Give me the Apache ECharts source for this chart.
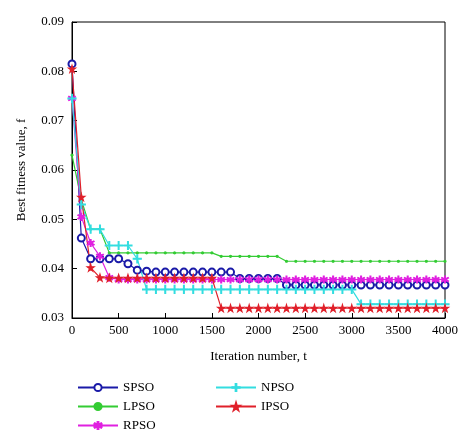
<!DOCTYPE html>
<html>
<head>
<meta charset="utf-8">
<script src="https://cdn.jsdelivr.net/npm/echarts@6/dist/echarts.min.js"></script>
</head>
<body style="margin:0;background:#fff">
<div id="main" style="width:474px;height:448px;"></div>
<script>
var iters = [];
for (var i = 0; i <= 40; i++) iters.push(i * 100);

var spso = [0.0815,0.0462,0.042,0.042,0.042,0.042,0.041,0.0397,0.0395,0.0393,0.0393,0.0393,0.0393,0.0393,0.0393,0.0393,0.0393,0.0393,0.038,0.038,0.038,0.038,0.038,0.0367,0.0367,0.0367,0.0367,0.0367,0.0367,0.0367,0.0367,0.0367,0.0367,0.0367,0.0367,0.0367,0.0367,0.0367,0.0367,0.0367,0.0367];
var lpso = [0.063,0.054,0.048,0.048,0.0432,0.0432,0.0432,0.0432,0.0432,0.0432,0.0432,0.0432,0.0432,0.0432,0.0432,0.0432,0.0425,0.0425,0.0425,0.0425,0.0425,0.0425,0.0425,0.0415,0.0415,0.0415,0.0415,0.0415,0.0415,0.0415,0.0415,0.0415,0.0415,0.0415,0.0415,0.0415,0.0415,0.0415,0.0415,0.0415,0.0415];
var rpso = [0.0745,0.0505,0.0452,0.0425,0.0382,0.0378,0.0378,0.0378,0.0378,0.0378,0.0378,0.0378,0.0378,0.0378,0.0378,0.0378,0.0378,0.0378,0.0378,0.0378,0.0378,0.0378,0.0378,0.0378,0.0378,0.0378,0.0378,0.0378,0.0378,0.0378,0.0378,0.0378,0.0378,0.0378,0.0378,0.0378,0.0378,0.0378,0.0378,0.0378,0.0378];
var npso = [0.0745,0.053,0.048,0.048,0.0447,0.0447,0.0447,0.042,0.0358,0.0358,0.0358,0.0358,0.0358,0.0358,0.0358,0.0358,0.0358,0.0358,0.0358,0.0358,0.0358,0.0358,0.0358,0.0358,0.0358,0.0358,0.0358,0.0358,0.0358,0.0358,0.0358,0.0328,0.0328,0.0328,0.0328,0.0328,0.0328,0.0328,0.0328,0.0328,0.0328];
var ipso = [0.0805,0.0545,0.0402,0.0382,0.0381,0.0381,0.0381,0.0381,0.0381,0.0381,0.0381,0.0381,0.0381,0.0381,0.0381,0.0381,0.032,0.032,0.032,0.032,0.032,0.032,0.032,0.032,0.032,0.032,0.032,0.032,0.032,0.032,0.032,0.032,0.032,0.032,0.032,0.032,0.032,0.032,0.032,0.032,0.032];

var star = 'path://M50,0 L61,35 L98,35 L68,57 L79,91 L50,70 L21,91 L32,57 L2,35 L39,35 Z';
var plus = 'path://M45,0 L55,0 L55,45 L100,45 L100,55 L55,55 L55,100 L45,100 L45,55 L0,55 L0,45 L45,45 Z';
var aster = 'path://M45,0 L55,0 L55,38 L87,20 L92,29 L60,50 L92,71 L87,80 L55,62 L55,100 L45,100 L45,62 L13,80 L8,71 L40,50 L8,29 L13,20 L45,38 Z';

function pairs(v) { return iters.map(function (t, i) { return [t, v[i]]; }); }
function mk(name, v, color, symbol, size) {
  return { name: name, type: 'line', data: pairs(v), symbol: symbol, symbolSize: size,
    lineStyle: { color: color, width: 1.2 }, itemStyle: { color: color, borderColor: color, borderWidth: 1.2 } };
}

var font = 'Liberation Serif';
var chart = echarts.init(document.getElementById('main'));
chart.setOption({
  animation: false,
  textStyle: { fontFamily: font },
  grid: { left: 72, right: 29, top: 22, bottom: 130, show: true, borderColor: '#000', borderWidth: 1 },
  xAxis: { type: 'value', min: 0, max: 4000, interval: 500,
    name: 'Iteration number, t', nameLocation: 'middle', nameGap: 32,
    nameTextStyle: { fontSize: 13, color: '#000', fontFamily: font },
    axisLine: { lineStyle: { color: '#000' } }, axisTick: { inside: true, length: 5, lineStyle: { color: '#000' } },
    axisLabel: { color: '#000', fontSize: 13, margin: 6, formatter: function (v) { return String(v); } }, splitLine: { show: false } },
  yAxis: { type: 'value', min: 0.03, max: 0.09, interval: 0.01,
    name: 'Best fitness value, f', nameLocation: 'middle', nameGap: 44,
    nameTextStyle: { fontSize: 13, color: '#000', fontFamily: font },
    axisLine: { lineStyle: { color: '#000' } }, axisTick: { inside: true, length: 5, lineStyle: { color: '#000' } },
    axisLabel: { color: '#000', fontSize: 13, formatter: function (v) { return v.toFixed(2); } }, splitLine: { show: false } },
  legend: [
    { data: ['SPSO', 'LPSO', 'RPSO'], orient: 'vertical', left: 72, top: 376, itemGap: 6, itemWidth: 40, itemHeight: 9,
      textStyle: { fontSize: 13, color: '#000', fontFamily: font } },
    { data: ['NPSO', 'IPSO'], orient: 'vertical', left: 210, top: 376, itemGap: 6, itemWidth: 40, itemHeight: 9,
      textStyle: { fontSize: 13, color: '#000', fontFamily: font } }
  ],
  series: [
    mk('SPSO', spso, '#1a1aa8', 'emptyCircle', 7),
    mk('LPSO', lpso, '#33cc33', 'circle', 2),
    mk('RPSO', rpso, '#e020e0', aster, 7),
    mk('NPSO', npso, '#33dde0', plus, 8),
    mk('IPSO', ipso, '#e0202a', star, 7)
  ]
});
</script>
</body>
</html>
